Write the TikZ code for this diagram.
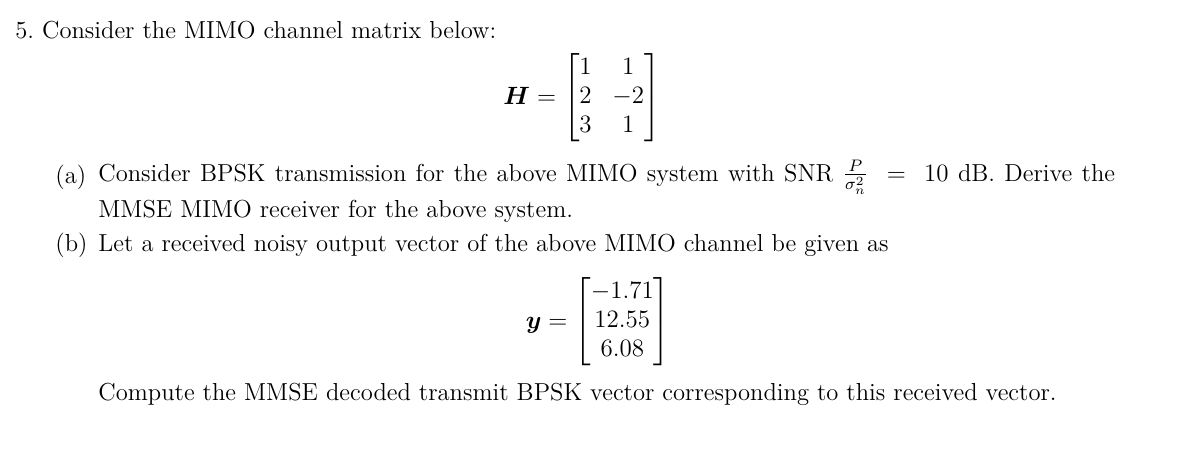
\documentclass[tikz,border=0pt]{standalone}
\usepackage{amsmath,amssymb,bm}
\begin{document}
\begin{tikzpicture}[x=0.48pt,y=-0.48pt,
  txt/.style={anchor=west,inner sep=0pt,font=\fontsize{11.8}{14}\selectfont},
  eq/.style={inner sep=0pt,font=\fontsize{11.8}{14}\selectfont}]
\useasboundingbox (0,0) rectangle (1185,460);
\node[txt] (q) at (15,30) {5.\ Consider the MIMO channel matrix below:};
\node[eq] (H) at (582,98) {$\bm{H}=\begin{bmatrix}1&1\\2&-2\\3&1\end{bmatrix}$};
\node[txt] (la) at (55,177) {(a)};
\node[txt] (a1) at (98,177) {\hbox to 488pt{Consider BPSK transmission for the above MIMO system with SNR $\frac{P}{\sigma_n^2}\;=\;10$ dB. Derive the}};
\node[txt] (a2) at (98,211) {MMSE MIMO receiver for the above system.};
\node[txt] (lb) at (55,245) {(b)};
\node[txt] (b1) at (98,245) {Let a received noisy output vector of the above MIMO channel be given as};
\node[eq] (y) at (598,322) {$\bm{y}=\begin{bmatrix}-1.71\\12.55\\6.08\end{bmatrix}$};
\node[txt] (c) at (98,394) {Compute the MMSE decoded transmit BPSK vector corresponding to this received vector.};
\end{tikzpicture}
\end{document}
